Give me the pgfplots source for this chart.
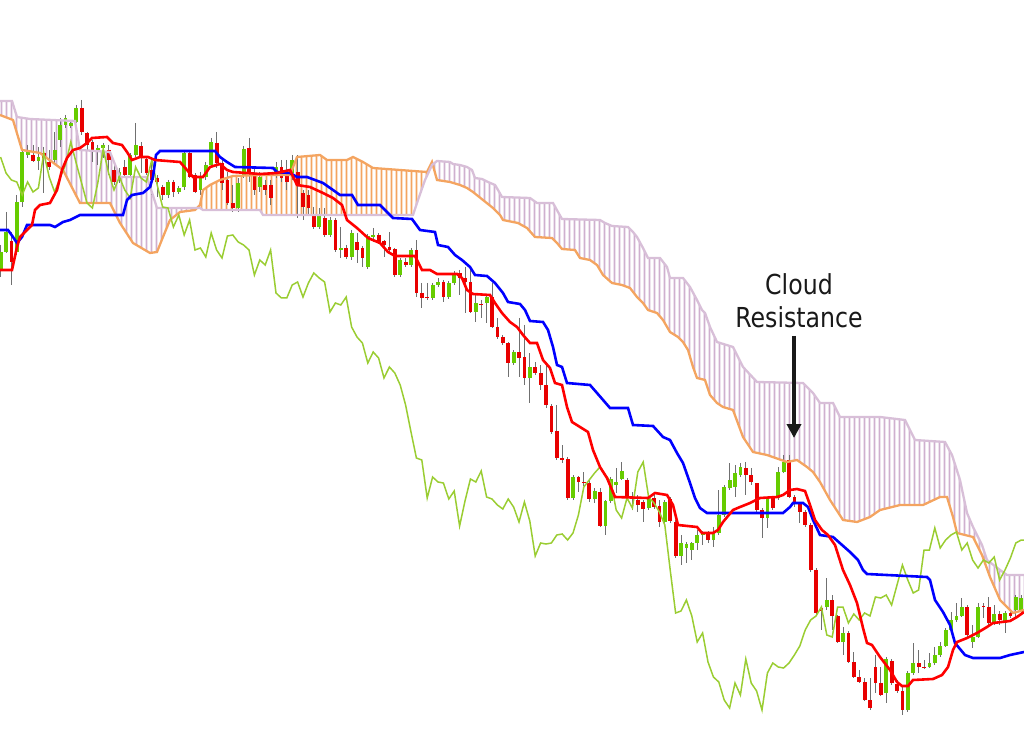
\documentclass[border=0pt]{standalone}
\usepackage{fontspec}
\usepackage{pgfplots}
\pgfplotsset{compat=1.18}
\usepackage{pgfplotstable}
\usepgfplotslibrary{fillbetween}
\usetikzlibrary{patterns,arrows.meta}
\newfontfamily\annfont{DejaVu Sans}[FakeStretch=0.86]

\definecolor{bullc}{HTML}{66CC00}
\definecolor{bearc}{HTML}{E80000}
\definecolor{wickc}{HTML}{707070}
\definecolor{tenkan}{HTML}{FF0000}
\definecolor{kijun}{HTML}{0000FF}
\definecolor{chikou}{HTML}{9ACD32}
\definecolor{spanA}{HTML}{F4A460}
\definecolor{spanB}{HTML}{D8BFD8}
\definecolor{hatchB}{HTML}{CFB0CF}
\definecolor{hatchA}{HTML}{F4A460}

\pgfdeclarepatternformonly{vhatch}{\pgfqpoint{0pt}{0pt}}{\pgfqpoint{5.4pt}{5.4pt}}{\pgfqpoint{5.4pt}{5.4pt}}{\pgfpathrectangle{\pgfqpoint{1.7pt}{0pt}}{\pgfqpoint{2.0pt}{5.4pt}}\pgfusepath{fill}}

% candles in picture units (y grows downwards): index, open, close, high, low
\pgfplotstableread{
i o c h l
0 270 252 245 277
1 252 232 212 253
2 241 262 232 285
3 252 202 195 255
4 202 152 150 207
5 155 150 145 158
6 155 161 145 162
7 161 157 147 170
8 153 158 147 193
9 162 167 150 170
10 160 150 132 165
11 140 125 118 147
12 125 118 115 128
13 126 123 120 128
14 122 108 105 123
15 108 132 100 135
16 133 145 132 150
17 142 150 140 162
18 150 148 145 165
19 148 145 143 158
20 150 160 145 175
21 170 182 165 185
22 180 172 168 183
23 167 175 160 177
24 175 155 153 177
25 155 145 123 157
26 146 157 142 173
27 159 173 158 175
28 170 180 163 195
29 178 182 175 197
30 187 195 185 200
31 195 182 180 198
32 182 192 180 197
33 192 188 186 194
34 187 153 150 190
35 153 177 151 178
36 175 192 173 193
37 190 178 172 195
38 177 165 162 180
39 165 142 138 167
40 143 163 132 168
41 163 183 160 190
42 180 203 172 205
43 203 208 185 212
44 208 183 178 212
45 175 149 146 178
46 148 173 138 182
47 175 190 168 195
48 187 177 172 192
49 185 190 180 195
50 185 198 180 205
51 173 167 162 178
52 167 178 160 182
53 173 182 160 190
54 173 160 155 180
55 172 185 155 218
56 193 207 190 220
57 195 208 190 215
58 215 227 207 229
59 227 215 208 229
60 218 235 208 237
61 235 220 217 237
62 220 250 218 252
63 250 248 227 258
64 248 257 245 259
65 257 233 230 260
66 242 250 233 263
67 248 258 246 267
68 267 236 234 269
69 237 235 228 242
70 235 242 233 244
71 241 245 240 257
72 247 250 232 252
73 249 275 248 277
74 275 260 258 277
75 262 265 258 267
76 265 250 248 267
77 250 293 240 297
78 293 298 283 308
79 297 298 283 300
80 298 285 283 300
81 285 282 278 287
82 282 297 280 302
83 297 283 281 299
84 283 273 271 285
85 273 278 270 295
86 278 282 267 313
87 282 312 270 313
88 312 303 295 322
89 304 305 300 318
90 303 297 295 323
91 297 327 283 328
92 327 337 318 339
93 337 343 335 345
94 343 363 342 377
95 363 352 350 365
96 352 358 318 377
97 357 378 325 385
98 378 367 353 403
99 367 373 362 375
100 373 385 365 390
101 385 405 362 408
102 406 432 404 434
103 431 458 405 460
104 458 460 445 463
105 459 498 457 500
106 498 477 475 500
107 477 482 476 492
108 482 483 472 486
109 483 499 480 502
110 499 491 488 503
111 492 526 488 527
112 526 501 500 535
113 501 479 477 503
114 485 482 468 493
115 479 471 462 480
116 480 497 478 500
117 497 499 492 510
118 500 505 495 512
119 502 509 500 522
120 508 499 495 510
121 498 507 495 509
122 506 522 500 527
123 522 502 500 524
124 499 521 497 523
125 522 556 520 558
126 556 543 535 565
127 548 544 542 563
128 550 543 542 560
129 543 535 530 550
130 535 534 531 545
131 534 540 531 543
132 540 533 527 547
133 533 515 490 535
134 515 487 485 517
135 488 480 463 490
136 487 473 465 497
137 475 467 463 477
138 468 475 462 495
139 475 482 468 485
140 483 510 483 512
141 510 518 508 538
142 518 498 497 528
143 498 508 497 510
144 498 472 467 500
145 472 462 455 473
146 460 497 455 498
147 497 503 495 507
148 503 512 502 523
149 512 525 510 527
150 525 570 523 572
151 570 613 568 616
152 608 611 607 630
153 607 600 578 610
154 600 616 595 630
155 616 642 615 643
156 642 633 627 655
157 633 662 631 663
158 662 677 652 678
159 677 682 670 683
160 682 700 678 701
161 700 708 678 710
162 667 683 655 693
163 683 695 667 696
164 693 659 657 703
165 661 683 659 685
166 684 691 680 693
167 691 710 687 715
168 710 673 671 712
169 673 663 643 675
170 663 667 650 673
171 667 668 660 669
172 667 663 653 668
173 663 655 647 665
174 655 646 642 657
175 646 630 628 647
176 630 620 612 632
177 620 616 603 622
178 616 607 598 617
179 607 635 605 637
180 642 637 625 648
181 637 607 603 638
182 606 607 603 618
183 607 623 597 625
184 623 614 605 625
185 614 620 611 625
186 623 613 611 633
187 613 616 610 618
188 610 597 595 617
189 612 598 595 615
}\candles

% lagging span, one value per candle position
\pgfplotstableread{
i g
0 157
1 173
2 180
3 182
4 195
5 182
6 192
7 188
8 153
9 177
10 192
11 178
12 165
13 142
14 163
15 183
16 203
17 208
18 183
19 149
20 173
21 190
22 177
23 190
24 198
25 167
26 178
27 182
28 160
29 185
30 207
31 208
32 227
33 215
34 235
35 220
36 250
37 248
38 257
39 233
40 250
41 258
42 236
43 235
44 242
45 245
46 250
47 275
48 260
49 265
50 250
51 293
52 298
53 298
54 285
55 282
56 297
57 283
58 273
59 278
60 282
61 312
62 303
63 305
64 297
65 327
66 337
67 343
68 363
69 352
70 358
71 378
72 367
73 373
74 385
75 405
76 432
77 458
78 460
79 498
80 477
81 482
82 483
83 499
84 491
85 526
86 501
87 479
88 482
89 471
90 497
91 499
92 505
93 509
94 499
95 507
96 522
97 502
98 521
99 556
100 543
101 544
102 543
103 535
104 534
105 540
106 533
107 515
108 487
109 480
110 473
111 467
112 475
113 482
114 510
115 518
116 498
117 508
118 472
119 462
120 497
121 503
122 512
123 525
124 570
125 613
126 611
127 600
128 616
129 642
130 633
131 662
132 677
133 682
134 700
135 708
136 683
137 695
138 659
139 683
140 691
141 710
142 673
143 663
144 667
145 668
146 663
147 655
148 646
149 630
150 620
151 616
152 607
153 635
154 637
155 607
156 607
157 623
158 614
159 620
160 613
161 616
162 597
163 598
164 595
165 605
166 585
167 565
168 580
169 593
170 590
171 550
172 550
173 528
174 548
175 540
176 535
177 532
178 550
179 543
180 560
181 568
182 560
183 563
184 557
185 580
186 570
187 558
188 543
189 540
190 540
}\chikoutab

\begin{document}
\begin{tikzpicture}
\begin{axis}[width=1024pt, height=729pt, scale only axis,
  xmin=0, xmax=1024, ymin=0, ymax=729, y dir=reverse, hide axis,
  colormap={candle}{color=(bullc) color=(bearc)},
  point meta min=-1, point meta max=1]

% candles: wicks then bodies (body colour from the sign of close-open)
\addplot[wickc, line width=1pt, quiver={u=0, v=\thisrow{l}-\thisrow{h}}]
  table[x expr=0.6+5.4*\thisrow{i}, y=h]{\candles};
\addplot[line width=3.8pt, point meta={(\thisrow{c}-\thisrow{o})/abs(\thisrow{c}-\thisrow{o})},
  quiver={u=0, v=\thisrow{c}-\thisrow{o}, colored=mapped color}]
  table[x expr=0.6+5.4*\thisrow{i}, y=o]{\candles};

% Senkou span A and B (paths)
\addplot[draw=none, name path=A] coordinates {
(0,115)(13,120)(22,150)(40,153)(63,170)(80,203)(110,203)(120,223)(133,243)(150,253)(157,252)(163,237)(170,220)(180,212)(195,210)(200,205)(203,190)(210,185)(220,180)(233,176)(260,175)(290,175)(297,157)(320,155)(327,160)(347,160)(353,157)(363,162)(373,168)(427,172)(432,162)(437,180)(450,182)(460,185)(467,188)(473,192)(483,200)(493,208)(500,215)(503,220)(518,223)(527,228)(535,237)(552,238)(557,243)(562,249)(575,250)(580,258)(590,260)(597,265)(603,275)(612,283)(622,285)(630,288)(637,297)(643,303)(648,310)(657,313)(663,320)(670,332)(678,337)(683,342)(688,350)(693,367)(697,378)(705,380)(710,395)(717,403)(723,407)(733,410)(743,437)(753,452)(767,455)(787,462)(797,460)(807,467)(813,472)(820,482)(830,500)(843,520)(857,522)(870,517)(880,510)(900,505)(923,505)(940,497)(947,497)(953,517)(957,533)(973,537)(982,555)(990,577)(1000,600)(1013,613)(1024,610)};
\addplot[draw=none, name path=B] coordinates {
(0,101)(12,101)(17,117)(30,119)(75,121)(80,150)(110,152)(120,177)(147,177)(157,208)(200,208)(203,210)(260,210)(263,215)(413,215)(418,200)(425,180)(432,165)(437,161)(450,162)(453,164)(460,165)(467,167)(472,170)(475,178)(482,179)(488,182)(495,185)(498,190)(502,197)(530,198)(537,203)(553,203)(558,212)(562,219)(600,220)(605,223)(612,226)(628,227)(633,232)(637,237)(643,248)(648,258)(660,258)(667,267)(670,278)(683,278)(690,287)(697,300)(702,310)(705,313)(710,327)(717,342)(733,347)(743,367)(757,382)(803,383)(813,393)(820,403)(833,403)(840,417)(880,417)(905,420)(915,440)(945,442)(952,455)(960,480)(967,513)(973,527)(982,545)(987,560)(1000,570)(1007,575)(1024,575)};

% cloud: veil over candles, then vertical hatching
\addplot[fill=white, fill opacity=0.45, draw=none] fill between[of=A and B];
\addplot[draw=none, pattern=vhatch, pattern color=hatchB] fill between[of=A and B, split,
  every segment no 1/.style={pattern color=hatchA}];

% span lines
\addplot[spanA, line width=2.3pt] coordinates {
(0,115)(13,120)(22,150)(40,153)(63,170)(80,203)(110,203)(120,223)(133,243)(150,253)(157,252)(163,237)(170,220)(180,212)(195,210)(200,205)(203,190)(210,185)(220,180)(233,176)(260,175)(290,175)(297,157)(320,155)(327,160)(347,160)(353,157)(363,162)(373,168)(427,172)(432,162)(437,180)(450,182)(460,185)(467,188)(473,192)(483,200)(493,208)(500,215)(503,220)(518,223)(527,228)(535,237)(552,238)(557,243)(562,249)(575,250)(580,258)(590,260)(597,265)(603,275)(612,283)(622,285)(630,288)(637,297)(643,303)(648,310)(657,313)(663,320)(670,332)(678,337)(683,342)(688,350)(693,367)(697,378)(705,380)(710,395)(717,403)(723,407)(733,410)(743,437)(753,452)(767,455)(787,462)(797,460)(807,467)(813,472)(820,482)(830,500)(843,520)(857,522)(870,517)(880,510)(900,505)(923,505)(940,497)(947,497)(953,517)(957,533)(973,537)(982,555)(990,577)(1000,600)(1013,613)(1024,610)};
\addplot[spanB, line width=2.3pt] coordinates {
(0,101)(12,101)(17,117)(30,119)(75,121)(80,150)(110,152)(120,177)(147,177)(157,208)(200,208)(203,210)(260,210)(263,215)(413,215)(418,200)(425,180)(432,165)(437,161)(450,162)(453,164)(460,165)(467,167)(472,170)(475,178)(482,179)(488,182)(495,185)(498,190)(502,197)(530,198)(537,203)(553,203)(558,212)(562,219)(600,220)(605,223)(612,226)(628,227)(633,232)(637,237)(643,248)(648,258)(660,258)(667,267)(670,278)(683,278)(690,287)(697,300)(702,310)(705,313)(710,327)(717,342)(733,347)(743,367)(757,382)(803,383)(813,393)(820,403)(833,403)(840,417)(880,417)(905,420)(915,440)(945,442)(952,455)(960,480)(967,513)(973,527)(982,545)(987,560)(1000,570)(1007,575)(1024,575)};

% chikou span
\addplot[chikou, line width=1.5pt] table[x expr=0.6+5.4*\thisrow{i}, y=g]{\chikoutab};

% kijun sen
\addplot[kijun, line width=2.6pt] coordinates {
(0,230)(8,230)(13,237)(17,243)(22,237)(27,225)(50,225)(55,227)(63,222)(70,220)(80,215)(123,215)(127,200)(132,195)(143,193)(150,187)(153,177)(156,155)(160,151)(215,151)(220,157)(227,162)(235,167)(273,168)(277,172)(290,173)(297,177)(307,177)(315,180)(323,183)(333,190)(340,195)(352,195)(358,205)(380,205)(393,218)(412,219)(420,230)(435,232)(438,245)(448,247)(455,255)(462,260)(470,267)(475,275)(487,276)(495,283)(503,293)(508,302)(520,304)(525,310)(530,321)(543,322)(548,330)(553,347)(557,365)(562,367)(567,383)(590,385)(597,393)(610,408)(628,408)(633,425)(653,426)(663,437)(670,440)(677,453)(683,463)(690,483)(695,498)(700,508)(707,513)(783,513)(790,507)(793,503)(803,503)(808,507)(813,520)(820,535)(833,537)(850,552)(858,560)(863,570)(867,574)(927,577)(930,580)(935,600)(943,612)(950,625)(955,643)(965,655)(973,658)(1000,658)(1010,655)(1024,652)};

% tenkan sen
\addplot[tenkan, line width=2.6pt] coordinates {
(0,270)(12,270)(17,247)(20,237)(27,230)(32,225)(35,210)(40,205)(50,203)(57,190)(62,170)(67,158)(73,150)(80,148)(87,143)(92,138)(107,137)(113,143)(122,145)(127,152)(132,160)(140,157)(148,157)(155,160)(180,162)(187,170)(193,177)(203,177)(210,167)(220,164)(227,170)(233,172)(260,174)(277,173)(290,170)(297,185)(310,187)(323,193)(333,198)(342,205)(347,220)(357,228)(368,238)(380,243)(388,252)(395,256)(415,256)(422,270)(430,270)(437,274)(457,274)(462,278)(467,290)(473,294)(490,295)(495,303)(502,313)(510,322)(517,327)(523,335)(530,343)(537,343)(543,360)(550,368)(555,383)(562,385)(567,407)(572,422)(580,427)(588,432)(593,450)(600,467)(607,478)(615,497)(648,498)(655,493)(667,495)(673,505)(678,525)(697,527)(702,533)(713,533)(718,530)(723,522)(733,510)(740,507)(750,503)(760,498)(777,497)(783,495)(790,490)(797,489)(805,491)(810,505)(815,520)(822,530)(828,535)(835,545)(843,570)(850,585)(857,603)(863,628)(867,643)(872,645)(880,657)(890,670)(897,682)(902,686)(908,686)(913,680)(933,679)(942,675)(948,667)(953,650)(957,642)(967,638)(977,633)(987,627)(993,623)(1010,621)(1017,617)(1024,612)};

% annotation
\draw[line width=4pt, black!90, -{Triangle[width=14pt,length=14pt]}] (axis cs:794,336) -- (axis cs:794,438);
\node[anchor=base, font=\annfont\fontsize{27.5}{33}\selectfont, text=black!90] at (axis cs:799,295) {Cloud};
\node[anchor=base, font=\annfont\fontsize{27.5}{33}\selectfont, text=black!90] at (axis cs:799,327) {Resistance};
\end{axis}
\pgfresetboundingbox
\path (0,0) rectangle (1024pt,729pt);
\end{tikzpicture}
\end{document}
